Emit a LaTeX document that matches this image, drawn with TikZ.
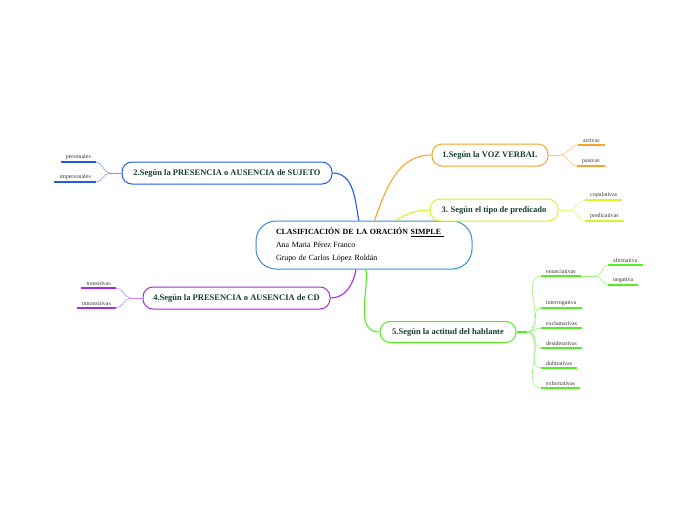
\documentclass[tikz,border=0pt]{standalone}
\usepackage{fontspec}
\setmainfont{Liberation Serif}
\usetikzlibrary{positioning}
\definecolor{ink}{RGB}{22,62,50}
\definecolor{mapblue}{RGB}{62,142,212}
\definecolor{sujblue}{RGB}{30,92,240}
\definecolor{vozorange}{RGB}{248,164,44}
\definecolor{predyellow}{RGB}{214,244,40}
\definecolor{actgreen}{RGB}{84,238,34}
\definecolor{cdpurple}{RGB}{168,42,238}
\tikzset{
  topic/.style={draw=#1, line width=1pt, rounded corners=10pt, fill=white,
    font=\bfseries\fontsize{8.5}{10}\selectfont, text=ink, minimum height=22pt},
  leaf/.style={font=\fontsize{5.9}{6.5}\selectfont, text=black!80, inner xsep=5pt, inner ysep=2.5pt},
  uline/.style={draw=#1, line width=1.5pt},
  twig/.style={draw=#1!60, line width=0.6pt},
  bough/.style={draw=#1, line width=1.1pt}
}
\begin{document}
\begin{tikzpicture}[x=1pt, y=-1pt]
  \useasboundingbox (0,0) rectangle (697,520);
  % central topic
  \node (c) [draw=mapblue, line width=1pt, rounded corners=20pt, fill=white,
    text width=176pt, inner xsep=20pt, minimum height=48pt, align=left,
    font=\fontsize{7.9}{13}\selectfont] at (364,245)
    {\textbf{CLASIFICACIÓN DE LA ORACIÓN \underline{SIMPLE }}\\
     Ana Maria Pérez Franco\\
     Grupo de Carlos López Roldán};
  % main topics
  \node (voz) [topic=vozorange, minimum width=116pt] at (490,155) {1.Según la VOZ VERBAL};
  \node (pred) [topic=predyellow, minimum width=128pt] at (494,210) {3. Según el tipo de predicado};
  \node (hab) [topic=actgreen, minimum width=136pt, minimum height=21pt] at (448,332) {5.Según la actitud del hablante};
  \node (suj) [topic=sujblue, minimum width=210pt] at (227,173) {2.Según la PRESENCIA o AUSENCIA de SUJETO};
  \node (cd) [topic=cdpurple, minimum width=187pt] at (236.5,298) {4.Según la PRESENCIA o AUSENCIA de CD};
  \draw[bough=sujblue] (suj.east) to[out=0, in=100] (c.102);
  \draw[bough=vozorange] (c.67) to[out=70, in=180] (voz.west);
  \draw[bough=predyellow] (c.38) to[out=30, in=180] (pred.west);
  \draw[bough=cdpurple] (c.-108) to[out=-100, in=0] (cd.east);
  \draw[bough=actgreen] (c.-85) to[out=-85, in=180] (hab.west);
  % voz verbal
  \node (act) [leaf, anchor=south west] at (578,145) {activas};
  \node (pas) [leaf, anchor=south west] at (577,166) {pasivas};
  \coordinate (jvoz) at (560,155);
  \draw[twig=vozorange] (voz.east) -- (jvoz);
  \foreach \n in {act,pas} {
    \draw[twig=vozorange] (jvoz) to[out=0, in=180] (\n.south west);
    \draw[uline=vozorange] (\n.south west) -- (\n.south east);
  }
  % tipo de predicado
  \node (cop) [leaf, anchor=south west] at (585,200) {copulativas};
  \node (prd) [leaf, anchor=south west] at (585,221) {predicativas};
  \coordinate (jpred) at (570,210);
  \draw[twig=predyellow] (pred.east) -- (jpred);
  \foreach \n in {cop,prd} {
    \draw[twig=predyellow] (jpred) to[out=0, in=180] (\n.south west);
    \draw[uline=predyellow] (\n.south west) -- (\n.south east);
  }
  % actitud del hablante
  \node (enu) [leaf, anchor=south west] at (541,276) {enunciativas};
  \foreach \n/\t/\y in {int/interrogativa/308, exc/exclamativas/328, des/desiderativas/348,
      dub/dubitativas/368, exh/exhortativas/388}
    \node (\n) [leaf, anchor=south west] at (541,\y) {\t};
  \coordinate (jhab) at (527,332);
  \draw[uline=actgreen] (hab.east) -- (jhab);
  \foreach \n in {enu,int,exc,des,dub,exh} {
    \draw[twig=actgreen] (jhab) to[out=0, in=180] (\n.south west);
    \draw[uline=actgreen] (\n.south west) -- (\n.south east);
  }
  \node (afi) [leaf, anchor=south west] at (608,265) {afirmativa};
  \node (neg) [leaf, anchor=south west] at (608,285) {negativa};
  \coordinate (jenu) at (596,276);
  \draw[twig=actgreen] (enu.south east) -- (jenu);
  \foreach \n in {afi,neg} {
    \draw[twig=actgreen] (jenu) to[out=0, in=180] (\n.south west);
    \draw[uline=actgreen] (\n.south west) -- (\n.south east);
  }
  % sujeto
  \node (per) [leaf, anchor=south east] at (96,162) {personales};
  \node (imp) [leaf, anchor=south east] at (96,182) {impersonales};
  \coordinate (jsuj) at (110,173);
  \draw[twig=sujblue] (suj.west) -- (jsuj);
  \foreach \n in {per,imp} {
    \draw[twig=sujblue] (jsuj) to[out=180, in=0] (\n.south east);
    \draw[uline=sujblue] (\n.south west) -- (\n.south east);
  }
  % complemento directo
  \node (tra) [leaf, anchor=south east] at (116,288) {transitivas};
  \node (intr) [leaf, anchor=south east] at (116,308) {intransitivas};
  \coordinate (jcd) at (131,298);
  \draw[twig=cdpurple] (cd.west) -- (jcd);
  \foreach \n in {tra,intr} {
    \draw[twig=cdpurple] (jcd) to[out=180, in=0] (\n.south east);
    \draw[uline=cdpurple] (\n.south west) -- (\n.south east);
  }
\end{tikzpicture}
\end{document}
